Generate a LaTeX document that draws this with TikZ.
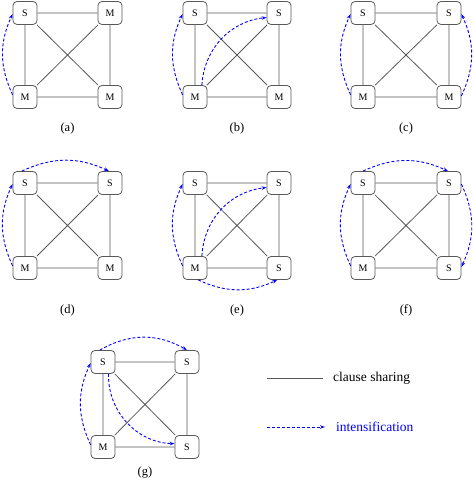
\documentclass[tikz,border=0pt]{standalone}
\usepackage{fontspec}
\setmainfont{Liberation Serif}
\usetikzlibrary{arrows.meta}

\begin{document}
\begin{tikzpicture}[x=1pt,y=1pt]
\tikzstyle{every node}+=[inner sep=0pt]
\tikzstyle{agent}=[draw=black!65,line width=0.8pt,rounded corners=4pt,minimum width=24pt,minimum height=23pt,font=\fontsize{10}{12}\selectfont]
\tikzstyle{share}=[draw=black!65,line width=0.8pt]
\tikzstyle{intens}=[draw=blue,line width=0.9pt,dash pattern=on 3pt off 2pt,-{Stealth[open,length=5pt,width=3.5pt]}]
\tikzstyle{caption}=[font=\fontsize{12.5}{15}\selectfont]
\tikzstyle{legend}=[anchor=west,font=\fontsize{13.5}{16}\selectfont]
\useasboundingbox (0,0) rectangle (474,480);
% (a)
\node [agent] (a1) at (25,467) {S};
\node [agent] (a2) at (110,467) {M};
\node [agent] (a3) at (25,383) {M};
\node [agent] (a4) at (110,383) {M};
\draw [share] (a1) -- (a2) (a3) -- (a4) (a1) -- (a3) (a2) -- (a4) (a1) -- (a4) (a2) -- (a3);
\draw [intens] (a3.170) to [bend left=25] (a1.185);
\node [caption] (la) at (67.5,352) {(a)};
% (b)
\node [agent] (b1) at (195,467) {S};
\node [agent] (b2) at (279,467) {S};
\node [agent] (b3) at (195,383) {M};
\node [agent] (b4) at (279,383) {M};
\draw [share] (b1) -- (b2) (b3) -- (b4) (b1) -- (b3) (b2) -- (b4) (b1) -- (b4) (b2) -- (b3);
\draw [intens] (b3.170) to [bend left=25] (b1.185);
\draw [intens] (b3.60) to [bend left=40] (b2.200);
\node [caption] (lb) at (237,352) {(b)};
% (c)
\node [agent] (c1) at (363,467) {S};
\node [agent] (c2) at (449,467) {S};
\node [agent] (c3) at (363,383) {M};
\node [agent] (c4) at (449,383) {M};
\draw [share] (c1) -- (c2) (c3) -- (c4) (c1) -- (c3) (c2) -- (c4) (c1) -- (c4) (c2) -- (c3);
\draw [intens] (c3.170) to [bend left=25] (c1.185);
\draw [intens] (c4.5) to [bend right=25] (c2.355);
\node [caption] (lc) at (406,352) {(c)};
% (d)
\node [agent] (d1) at (25,297) {S};
\node [agent] (d2) at (110,297) {S};
\node [agent] (d3) at (25,212) {M};
\node [agent] (d4) at (110,212) {M};
\draw [share] (d1) -- (d2) (d3) -- (d4) (d1) -- (d3) (d2) -- (d4) (d1) -- (d4) (d2) -- (d3);
\draw [intens] (d3.170) to [bend left=25] (d1.185);
\draw [intens] (d1.105) to [bend left=25] (d2.95);
\node [caption] (ld) at (67.5,170) {(d)};
% (e)
\node [agent] (e1) at (195,297) {S};
\node [agent] (e2) at (279,297) {S};
\node [agent] (e3) at (195,212) {M};
\node [agent] (e4) at (279,212) {S};
\draw [share] (e1) -- (e2) (e3) -- (e4) (e1) -- (e3) (e2) -- (e4) (e1) -- (e4) (e2) -- (e3);
\draw [intens] (e3.170) to [bend left=25] (e1.185);
\draw [intens] (e3.60) to [bend left=40] (e2.200);
\draw [intens] (e3.285) to [bend right=25] (e4.262);
\node [caption] (le) at (237,170) {(e)};
% (f)
\node [agent] (f1) at (363,297) {S};
\node [agent] (f2) at (449,297) {S};
\node [agent] (f3) at (363,212) {M};
\node [agent] (f4) at (449,212) {S};
\draw [share] (f1) -- (f2) (f3) -- (f4) (f1) -- (f3) (f2) -- (f4) (f1) -- (f4) (f2) -- (f3);
\draw [intens] (f3.170) to [bend left=25] (f1.185);
\draw [intens] (f1.90) to [bend left=25] (f2.95);
\draw [intens] (f2.355) to [bend left=25] (f4.5);
\node [caption] (lf) at (406,170) {(f)};
% (g)
\node [agent] (g1) at (103,118) {S};
\node [agent] (g2) at (187,118) {S};
\node [agent] (g3) at (103,33) {M};
\node [agent] (g4) at (187,33) {S};
\draw [share] (g1) -- (g2) (g3) -- (g4) (g1) -- (g3) (g2) -- (g4) (g1) -- (g4) (g2) -- (g3);
\draw [intens] (g3.170) to [bend left=25] (g1.185);
\draw [intens] (g1.105) to [bend left=30] (g2.90);
\draw [intens] (g1.295) to [bend right=45] (g4.165);
\node [caption] (lg) at (145,7) {(g)};
% legend
\coordinate (solidA) at (267,102);
\coordinate (solidB) at (323,102);
\draw [share] (solidA) -- (solidB);
\node [legend] (solidT) at (333,102) {clause sharing};
\coordinate (dashA) at (267,53);
\coordinate (dashB) at (325,53);
\draw [intens] (dashA) -- (dashB);
\node [legend,text=blue] (dashT) at (336,53) {intensification};
\end{tikzpicture}
\end{document}
